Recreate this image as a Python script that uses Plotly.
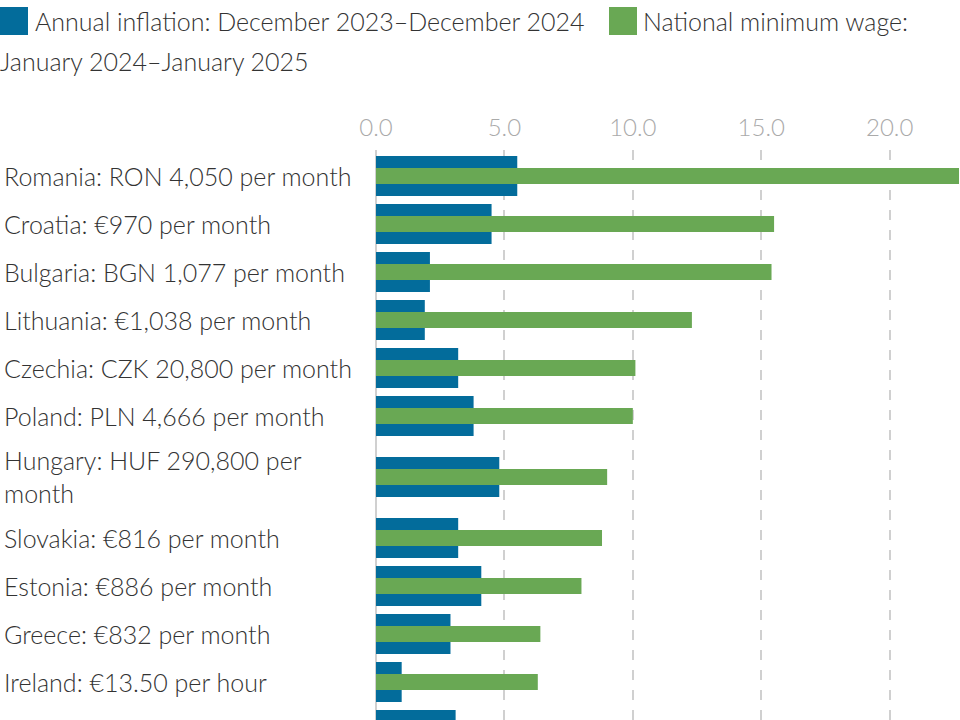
import textwrap
import plotly.graph_objects as go

# ---- data ----
countries = ["Romania", "Croatia", "Bulgaria", "Lithuania", "Czechia", "Poland",
             "Hungary", "Slovakia", "Estonia", "Greece", "Ireland", "Portugal"]
wage_levels = ["RON 4,050 per month", "€970 per month", "BGN 1,077 per month",
               "€1,038 per month", "CZK 20,800 per month", "PLN 4,666 per month",
               "HUF 290,800 per month", "€816 per month", "€886 per month",
               "€832 per month", "€13.50 per hour", "€870 per month"]
inflation = [5.5, 4.5, 2.1, 1.9, 3.2, 3.8, 4.8, 3.2, 4.1, 2.9, 1.0, 3.1]
min_wage_growth = [22.7, 15.5, 15.4, 12.3, 10.1, 10.0, 9.0, 8.8, 8.0, 6.4, 6.3, 6.1]
x_ticks = [0, 5, 10, 15, 20]
legend_inflation = "Annual inflation: December 2023–December 2024"
legend_wage_line1 = "National minimum wage:"
legend_wage_line2 = "January 2024–January 2025"

# ---- style ----
W, H = 960, 720
BLUE = "#036c9b"
GREEN = "#69a854"
TEXT = "#333333"
TICK = "#aaaaaa"
GRID = "#d0d0d0"
FONT = "Lato"
FS = 25
WRAP = 29
EXTRA_LINE = 0.54  # extra row height for each additional label line (row units)

labels = ["<br>".join(textwrap.wrap(f"{c}: {w}", WRAP)) for c, w in zip(countries, wage_levels)]
heights = [1 + EXTRA_LINE * (lab.count("<br>")) for lab in labels]
pos = []
top = -0.5
for h in heights:
    pos.append(top + h / 2)
    top += h

fig = go.Figure()
fig.add_trace(go.Bar(y=pos, x=inflation, orientation="h", width=40 / 48,
                     marker=dict(color=BLUE, line=dict(width=0)), name=legend_inflation,
                     hoverinfo="x"))
fig.add_trace(go.Bar(y=pos, x=min_wage_growth, orientation="h", width=16 / 48,
                     marker=dict(color=GREEN, line=dict(width=0)),
                     name=legend_wage_line1 + " " + legend_wage_line2, hoverinfo="x"))

txt_font = dict(family=FONT, size=FS, color=TEXT, weight=300)
annotations = []
for p, lab in zip(pos, labels):
    annotations.append(dict(xref="paper", yref="y", x=2 / W, y=p, text=lab,
                            xanchor="left", yanchor="middle", align="left",
                            showarrow=False, font=txt_font))

# legend drawn manually (wraps across lines like the original)
annotations += [
    dict(xref="paper", yref="paper", x=33 / W, y=1 - 21 / H, text=legend_inflation,
         xanchor="left", yanchor="middle", showarrow=False, font=txt_font),
    dict(xref="paper", yref="paper", x=641 / W, y=1 - 21 / H, text=legend_wage_line1,
         xanchor="left", yanchor="middle", showarrow=False, font=txt_font),
    dict(xref="paper", yref="paper", x=-2 / W, y=1 - 61 / H, text=legend_wage_line2,
         xanchor="left", yanchor="middle", showarrow=False, font=txt_font),
]
shapes = [
    dict(type="rect", xref="paper", yref="paper", x0=0, x1=28 / W, y0=1 - 35 / H, y1=1 - 7 / H,
         fillcolor=BLUE, line=dict(width=0)),
    dict(type="rect", xref="paper", yref="paper", x0=609 / W, x1=637 / W, y0=1 - 35 / H, y1=1 - 7 / H,
         fillcolor=GREEN, line=dict(width=0)),
]

fig.update_layout(
    width=W, height=H,
    margin=dict(l=0, r=0, t=0, b=0, pad=0, autoexpand=False),
    barmode="overlay",
    showlegend=False,
    plot_bgcolor="white", paper_bgcolor="white",
    annotations=annotations, shapes=shapes,
    font=dict(family=FONT, color=TEXT),
)
fig.update_xaxes(domain=[376 / W, 959 / W], range=[0, 22.7], side="top",
                 tickvals=x_ticks, tickformat=".1f",
                 tickfont=dict(family=FONT, size=24, color=TICK, weight=300),
                 ticklabelstandoff=8, automargin=False,
                 showgrid=True, gridcolor=GRID, gridwidth=2, griddash="10px,10px",
                 zeroline=True, zerolinecolor=GRID, zerolinewidth=2,
                 showline=False, ticks="", fixedrange=True)
fig.update_yaxes(domain=[0, 570 / H], range=[544 / 48, -26 / 48], automargin=False,
                 showticklabels=False, showgrid=False, zeroline=False, showline=False,
                 ticks="", fixedrange=True)

fig.write_html("out.html", config={"displayModeBar": False},
               post_script="document.body.style.margin='0';document.body.style.overflow='hidden';")
